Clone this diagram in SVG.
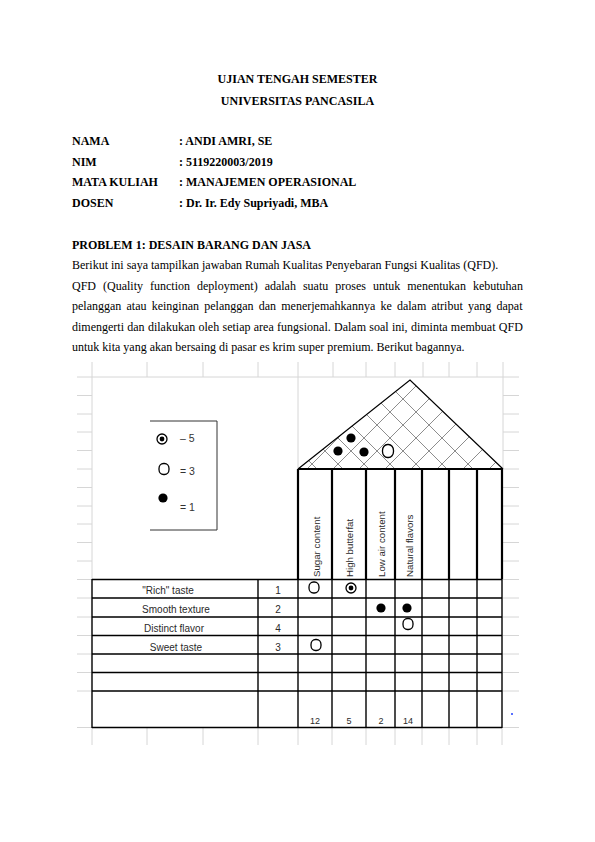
<svg xmlns="http://www.w3.org/2000/svg" width="595" height="842" viewBox="0 0 595 842">
<style>
.h{font-family:"Liberation Serif","Times New Roman",serif;font-size:12px;font-weight:bold;fill:#000}
.b{font-family:"Liberation Serif","Times New Roman",serif;font-size:12px;fill:#000}
.g{stroke:#d6d6d6;stroke-width:1;fill:none}
.t{font-family:"Liberation Sans",Arial,sans-serif;font-size:10px;fill:#2a2a2a}
.c{font-family:"Liberation Sans",Arial,sans-serif;font-size:9.7px;fill:#2a2a2a}
.n{font-family:"Liberation Sans",Arial,sans-serif;font-size:9px;fill:#2a2a2a;text-anchor:middle}
.lg{font-family:"Liberation Sans",Arial,sans-serif;font-size:10.5px;fill:#333}
.thick{stroke:#000;stroke-width:2.2;fill:none}
.thin{stroke:#000;stroke-width:1.4;fill:none}
.hatch{stroke:#707070;stroke-width:0.8;fill:none}
.filled{fill:#000}
.open{fill:#fff;stroke:#000;stroke-width:1.3}
</style>
<defs>
<clipPath id="roofClip"><polygon points="298,469 410,380 503,469"/></clipPath>
</defs>
<rect width="595" height="842" fill="#fff"/>

<g id="header">
<text class="h" x="297.5" y="83" text-anchor="middle">UJIAN TENGAH SEMESTER</text>
<text class="h" x="297.5" y="104.5" text-anchor="middle">UNIVERSITAS PANCASILA</text>
<text class="h" x="72" y="145">NAMA</text>
<text class="h" x="179" y="145">: ANDI AMRI, SE</text>
<text class="h" x="72" y="165.5">NIM</text>
<text class="h" x="179" y="165.5">: 5119220003/2019</text>
<text class="h" x="72" y="186">MATA KULIAH</text>
<text class="h" x="179" y="186">: MANAJEMEN OPERASIONAL</text>
<text class="h" x="72" y="206.5">DOSEN</text>
<text class="h" x="179" y="206.5">: Dr. Ir. Edy Supriyadi, MBA</text>
</g>

<g id="body-text">
<text class="h" x="72" y="248.5">PROBLEM 1: DESAIN BARANG DAN JASA</text>
<text class="b" x="72" y="269">Berikut ini saya tampilkan jawaban Rumah Kualitas Penyebaran Fungsi Kualitas (QFD).</text>
<text class="b" x="72" y="289.5" word-spacing="4">QFD (Quality function deployment) adalah suatu proses untuk menentukan kebutuhan</text>
<text class="b" x="72" y="310" word-spacing="2.2">pelanggan atau keinginan pelanggan dan menerjemahkannya ke dalam atribut yang dapat</text>
<text class="b" x="72" y="330.5" word-spacing="0.3">dimengerti dan dilakukan oleh setiap area fungsional. Dalam soal ini, diminta membuat QFD</text>
<text class="b" x="72" y="351">untuk kita yang akan bersaing di pasar es krim super premium. Berikut bagannya.</text>
</g>

<g id="grid">
<path class="g" d="M77,377H519"/>
<path class="g" d="M92,362V579M147,362V377M203,362V377M258,362V377M298,362V469M333,362V377M366,362V377M395,362V377M423,362V377M449,362V377M477,362V377M503,362V469"/>
<path class="g" d="M77,395.5H92M77,414H92M77,432H92M77,450.5H92M77,469H92M77,487.5H92M77,506H92M77,524H92M77,542.5H92M77,561H92M77,579.5H92M77,598H92M77,617H92M77,635.5H92M77,654H92M77,672.5H92M77,691H92M77,727.5H92"/>
<path class="g" d="M503,395.5H519M503,414H519M503,432H519M503,450.5H519M503,469H519M503,487.5H519M503,506H519M503,524H519M503,542.5H519M503,561H519M503,579.5H519M503,598H519M503,617H519M503,635.5H519M503,654H519M503,672.5H519M503,691H519M503,727.5H519"/>
<path class="g" d="M92,727V745M147,727V745M203,727V745M258,727V745M298,727V745M332,727V745M366,727V745M395,727V745M422,727V745M449,727V745M477,727V745M502,727V745"/>
</g>

<g id="legend">
<path d="M150,421H217V530H150" fill="none" stroke="#333" stroke-width="1"/>
<circle class="open" cx="162" cy="439" r="5"/>
<circle class="filled" cx="162" cy="439" r="2.4"/>
<text class="lg" x="180" y="442">– 5</text>
<rect class="open" x="159" y="463.5" width="10" height="11" rx="4.5" ry="5"/>
<text class="lg" x="180" y="475">= 3</text>
<circle class="filled" cx="163" cy="498" r="4.6"/>
<text class="lg" x="180" y="511">= 1</text>
</g>

<g id="roof">
<g clip-path="url(#roofClip)" class="hatch">
<path d="M307,469L406,370M333,469L432,370M359,469L458,370M385,469L484,370M411,469L510,370M437,469L536,370M463,469L562,370M489,469L588,370"/>
<path d="M317,469L218,370M343,469L244,370M369,469L270,370M395,469L296,370M421,469L322,370M447,469L348,370M473,469L374,370"/>
</g>
<polyline points="298,469 410,380 503,469" fill="none" stroke="#000" stroke-width="1.2"/>
<circle class="filled" cx="351" cy="438" r="4.6"/>
<circle class="filled" cx="338" cy="451" r="4.6"/>
<circle class="filled" cx="364" cy="452" r="4.6"/>
<rect class="open" x="382.5" y="444.5" width="11" height="13" rx="5" ry="6"/>
</g>

<g id="columns">
<path class="thick" d="M298,469H502M298,469V579M332,469V579M366,469V579M395,469V579M422,469V579M449,469V579M477,469V579M502,469V579"/>
<text class="c" transform="translate(320,577) rotate(-90)">Sugar content</text>
<text class="c" transform="translate(353,577) rotate(-90)">High butterfat</text>
<text class="c" transform="translate(385,577) rotate(-90)">Low air content</text>
<text class="c" transform="translate(413,577) rotate(-90)">Natural flavors</text>
</g>

<g id="table">
<path class="thin" d="M92,579.5H502M92,598H502M92,617H502M92,635.5H502M92,654H502M92,672.5H502M92,691H502M92,727.5H502"/>
<path class="thin" d="M92,579V728M258,579V728M298,579V728M332,579V728M366,579V728M395,579V728M422,579V728M449,579V728M477,579V728M502,579V728"/>
<text class="t" x="168" y="594" text-anchor="middle">"Rich" taste</text>
<text class="t" x="176" y="613" text-anchor="middle">Smooth texture</text>
<text class="t" x="174" y="632" text-anchor="middle">Distinct flavor</text>
<text class="t" x="176" y="650.5" text-anchor="middle">Sweet taste</text>
<text class="t" x="278" y="594" text-anchor="middle">1</text>
<text class="t" x="278" y="613" text-anchor="middle">2</text>
<text class="t" x="278" y="632" text-anchor="middle">4</text>
<text class="t" x="278" y="650.5" text-anchor="middle">3</text>
<text class="n" x="315" y="724">12</text>
<text class="n" x="349" y="724">5</text>
<text class="n" x="381" y="724">2</text>
<text class="n" x="408" y="724">14</text>
</g>

<g id="matrix-symbols">
<rect class="open" x="309" y="582" width="10" height="11" rx="4.5" ry="5"/>
<circle class="open" cx="351" cy="588" r="5"/>
<circle class="filled" cx="351" cy="588" r="2.4"/>
<circle class="filled" cx="381" cy="608" r="4.6"/>
<circle class="filled" cx="407" cy="608" r="4.6"/>
<rect class="open" x="403" y="618.5" width="10" height="11" rx="4.5" ry="5"/>
<rect class="open" x="311" y="639.5" width="10" height="11" rx="4.5" ry="5"/>
</g>

<circle cx="512" cy="714" r="1" fill="#2040ff"/>
</svg>
